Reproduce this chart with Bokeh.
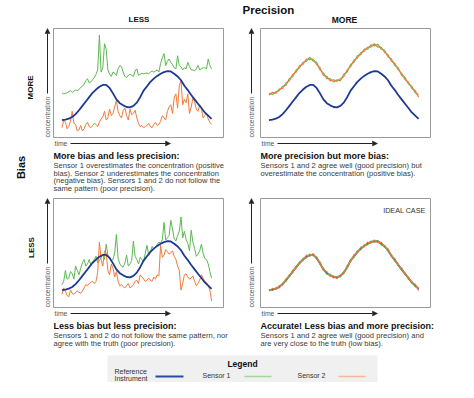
import math
from bokeh.plotting import figure
from bokeh.models import Range1d, Label, Arrow, NormalHead, BoxAnnotation
from bokeh.embed import file_html
from bokeh.resources import INLINE

# ---------------- data ----------------
TIME = list(range(5, 94, 2))      # 45 time steps (smooth series)
TIME_FINE = list(range(5, 94))    # 89 time steps (noisy series)

REF = [16.0, 16.5, 17.3, 18.8, 21.5, 25.0, 29.0, 33.0, 37.0, 41.0, 44.0, 46.5, 48.2, 48.3, 45.5,
       40.5, 35.0, 31.5, 29.5, 28.0, 27.7, 29.0, 32.0, 37.0, 43.0, 47.0, 51.0, 54.0, 56.5, 58.5,
       60.0, 60.8, 60.6, 58.5, 56.0, 52.5, 47.5, 43.5, 39.0, 35.0, 31.0, 27.0, 23.0, 20.0, 17.0]

# more bias, less precision (fine time grid)
S1_MB_LP = [41, 40, 40.5, 41, 42, 43, 41.5, 42.5, 43.5, 43,
            44, 46, 47, 49, 52, 54, 50, 51, 53, 55,
            58, 62, 94, 60, 64, 86, 81, 62, 58, 56,
            60, 59, 57, 63, 66, 65, 60, 56, 55, 57,
            58, 57, 56, 61, 63, 57, 58, 59, 58.5, 59,
            59, 58.5, 60, 61, 60, 61, 62, 60, 68, 73,
            77, 66, 70, 72, 69, 67, 64, 63, 75, 66,
            65, 62, 64, 63, 69, 65, 62, 62, 61, 63,
            66, 62, 63, 64, 64, 63, 72, 66, 63]
S2_MB_LP = [9, 16, 14, 8, 10, 15, 24, 13, 12, 6,
            7, 11, 6, 8, 12, 14, 10, 9, 11, 13,
            12, 10, 14, 17, 19, 24, 16, 18, 26, 20,
            22, 28, 34, 24, 20, 18, 25, 27, 20, 16,
            26, 21, 22, 25, 18, 13, 10, 11, 9, 10,
            11, 13, 10, 9, 12, 14, 11, 12, 15, 20,
            18, 16, 24, 28, 30, 22, 37, 40, 27, 48,
            52, 30, 35, 32, 40, 22, 28, 36, 33, 26,
            24, 30, 27, 18, 20, 22, 17, 14, 12]

# more bias, more precision
S1_MB_MP = [40.5, 39.5, 42, 43, 47, 48, 54, 56, 62, 64, 69, 70, 73.5, 70, 69,
            62, 59, 54, 54, 51, 53, 52, 58, 60, 67, 69, 75, 76, 81, 81,
            85, 84, 85.5, 81, 80, 74, 72, 66, 64, 57, 55, 49, 47, 41, 39]
S2_MB_MP = [39, 41.5, 40.5, 44.5, 45, 50, 52, 58, 60, 66, 67, 72, 71.5, 72, 67,
            64, 57, 56, 52, 53, 51.5, 54, 56, 62, 65, 71, 73, 78, 79, 83,
            83, 86, 83, 83, 78, 76, 70, 68, 62, 59, 53, 51, 45, 43, 37]

# less bias, less precision (fine time grid)
S1_LB_LP = [21, 24, 34, 26, 27, 33, 31, 26, 38, 34,
            30, 36, 41, 44, 38, 40, 44, 39, 42, 44,
            47, 41, 43, 46, 49, 44, 58, 48, 46, 43,
            44, 50, 67, 45, 40, 38, 37, 41, 48, 38,
            40, 43, 61, 47, 44, 40, 46, 44, 42, 50,
            57, 48, 51, 56, 54, 55, 58, 60, 59, 62,
            78, 62, 64, 66, 80, 72, 63, 61, 66, 70,
            83, 64, 70, 62, 59, 52, 71, 60, 54, 47,
            49, 52, 58, 50, 45, 44, 40, 33, 27]
S2_LB_LP = [12, 18, 15, 11, 10, 16, 13, 12, 14, 15,
            14, 13, 15, 18, 21, 20, 22, 23, 24, 22,
            24, 32, 60, 44, 38, 52, 50, 34, 30, 40,
            36, 28, 33, 24, 20, 21, 19, 18, 20, 22,
            18, 19, 21, 24, 25, 22, 30, 28, 26, 24,
            25, 27, 25, 24, 28, 26, 30, 29, 57, 46,
            48, 53, 51, 49, 50, 52, 47, 44, 38, 34,
            16, 22, 30, 31, 28, 26, 27, 29, 24, 20,
            22, 25, 30, 27, 24, 23, 20, 16, 6]

# less bias, more precision (ideal)
S1_LB_MP = [16.5, 15.5, 18, 18, 22.5, 24, 30, 32, 38, 40, 45, 45.5, 49, 47.5, 46.5,
            39.5, 36, 30.5, 30.5, 27, 28.5, 28, 33, 36, 44, 46, 52, 53, 57.5, 57.5,
            61, 60, 61.5, 57.5, 57, 51.5, 48.5, 42.5, 40, 34, 32, 26, 24, 19, 18]
S2_LB_MP = [15, 17.5, 16.5, 20, 20.5, 26.5, 28, 34.5, 36, 42, 43, 48, 47, 49.5, 44,
            42, 34, 33, 28.5, 29, 26.5, 30, 31, 38.5, 42, 48.5, 50, 55.5, 55.5, 60,
            59, 62, 59.5, 60, 55, 54, 46.5, 45, 38, 36.5, 30, 28, 22, 21.5, 15.5]

TITLE = "Precision"
COL_LABELS = ["LESS", "MORE"]
ROW_LABELS = ["MORE", "LESS"]
ROW_TITLE = "Bias"
BLOCKS = [
    ("More bias and less precision:",
     ["Sensor 1 overestimates the concentration (positive",
      "bias). Sensor 2 underestimates the concentration",
      "(negative bias). Sensors 1 and 2 do not follow the",
      "same pattern (poor precision)."]),
    ("More precision but more bias:",
     ["Sensors 1 and 2 agree well (good precision) but",
      "overestimate the concentration (positive bias)."]),
    ("Less bias but less precision:",
     ["Sensors 1 and 2 do not follow the same pattern, nor",
      "agree with the truth (poor precision)."]),
    ("Accurate! Less bias and more precision:",
     ["Sensors 1 and 2 agree well (good precision) and",
      "are very close to the truth (low bias)."]),
]
SENSORS = [(TIME_FINE, S1_MB_LP, S2_MB_LP), (TIME, S1_MB_MP, S2_MB_MP),
           (TIME_FINE, S1_LB_LP, S2_LB_LP), (TIME, S1_LB_MP, S2_LB_MP)]
LEGEND_TITLE = "Legend"
LEGEND_LABELS = ["Reference\nInstrument", "Sensor 1", "Sensor 2"]

# ---------------- styling / layout ----------------
W, H = 458, 382
FONT = "Liberation Sans"
BLUE, GREEN, ORANGE = "#1c3a92", "#5cb852", "#f27a3a"
LEG_COLORS = ["#2b4a9c", "#a3d69c", "#f5b797"]
# panel frames in canvas pixels: (left, right, top, bottom)
PANELS = [(53, 223, 28, 137), (260, 430, 28, 137), (53, 223, 198, 307), (260, 430, 198, 307)]
YARROW_OFF = [6, 9, 6, 9]
BLUE_ON_TOP = [True, False, True, False]
SENSOR_WIDTH = [1, 1.2, 1, 1.2]

p = figure(width=W, height=H, x_range=Range1d(0, W), y_range=Range1d(H, 0),
           output_backend="svg", toolbar_location=None,
           x_axis_type=None, y_axis_type=None, min_border=0,
           outline_line_color=None)
p.background_fill_color = "white"
p.border_fill_color = "white"

xr, yr = {}, {}
for i, (L, R, T, B) in enumerate(PANELS):
    sx = (R - L) / 100.0
    sy = (B - T) / 100.0
    xr["px%d" % i] = Range1d(-L / sx, (W - L) / sx)
    yr["py%d" % i] = Range1d(-(H - B) / sy, 100 + T / sy)
p.extra_x_ranges = xr
p.extra_y_ranges = yr


def lab(x, y, text, size, bold=False, color="#111111", align="left", angle=0.0):
    p.add_layout(Label(x=x, y=y, text=text, text_font=FONT, text_font_size=size,
                       text_font_style="bold" if bold else "normal", text_color=color,
                       text_align=align, text_baseline="middle", angle=angle))


def arrow(x0, y0, x1, y1):
    p.add_layout(Arrow(end=NormalHead(size=5, fill_color="#222222", line_color="#222222", line_width=0.5),
                       x_start=x0, y_start=y0, x_end=x1, y_end=y1,
                       line_color="#222222", line_width=1))


# legend background (under everything)
p.add_layout(BoxAnnotation(left=107, right=377, top=355, bottom=382, level="underlay",
                           fill_color="#f0f0f0", fill_alpha=1, line_color=None))

for i, (L, R, T, B) in enumerate(PANELS):
    kw = dict(x_range_name="px%d" % i, y_range_name="py%d" % i)
    p.quad(left=[0], right=[100], bottom=[0], top=[100], fill_color=None,
           line_color="#9a9a9a", line_width=1, **kw)
    ts, s1, s2 = SENSORS[i]
    if not BLUE_ON_TOP[i]:
        p.line(TIME, REF, line_color=BLUE, line_width=1.8, **kw)
    p.line(ts, s1, line_color=GREEN, line_width=SENSOR_WIDTH[i], **kw)
    p.line(ts, s2, line_color=ORANGE, line_width=SENSOR_WIDTH[i], **kw)
    if BLUE_ON_TOP[i]:
        p.line(TIME, REF, line_color=BLUE, line_width=1.8, **kw)

    # axis decorations
    ax = L - YARROW_OFF[i]
    lab(ax, B, "concentration", "6.8px", color="#555555", angle=math.pi / 2)
    arrow(ax, B - 44, ax, T)
    lab(L + 1, B + 6, "time", "6.8px", color="#555555")
    arrow(L + 17, B + 6, L + 117, B + 6)

    # description
    title, lines = BLOCKS[i]
    lab(L, B + 18, title, "9px", bold=True, color="#111111")
    for j, t in enumerate(lines):
        lab(L, B + 28 + 7.6 * j, t, "7.6px", color="#3a3a3a")

lab(PANELS[3][1] - 5, PANELS[3][2] + 12, "IDEAL CASE", "7.2px", color="#333333", align="right")

# headers
lab(242, 9.5, TITLE, "11.5px", bold=True)
lab(138.5, 19, COL_LABELS[0], "8px", bold=True, align="center")
lab(344, 19, COL_LABELS[1], "8.5px", bold=True, align="center")
lab(20, 167, ROW_TITLE, "11px", bold=True, angle=math.pi / 2, align="center")
lab(30, 87, ROW_LABELS[0], "8px", bold=True, angle=math.pi / 2, align="center")
lab(30.5, 247, ROW_LABELS[1], "8px", bold=True, angle=math.pi / 2, align="center")

# legend
lab(242, 363.5, LEGEND_TITLE, "8.5px", bold=True, align="center")
ref1, ref2 = LEGEND_LABELS[0].split("\n")
lab(114, 370.5, ref1, "7px", color="#333333")
lab(114, 378, ref2, "7px", color="#333333")
lab(202, 375, LEGEND_LABELS[1], "7px", color="#333333")
lab(297, 375, LEGEND_LABELS[2], "7px", color="#333333")
for (xa, xb), c, lw in zip([(155, 183), (244, 271), (338, 365)], LEG_COLORS, [2, 1.5, 1.5]):
    p.line([xa, xb], [376, 376], line_color=c, line_width=lw)

open("out.html", "w").write(file_html(p, INLINE))
